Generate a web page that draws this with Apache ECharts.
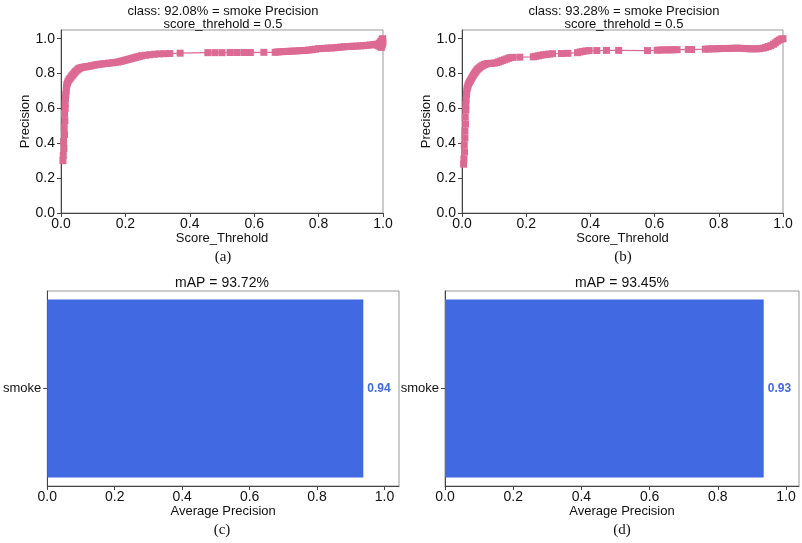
<!DOCTYPE html>
<html>
<head>
<meta charset="utf-8">
<script src="https://cdn.jsdelivr.net/npm/echarts@6/dist/echarts.min.js"></script>
<style>
  html, body { margin: 0; padding: 0; background: #fff; }
  #main { width: 802px; height: 543px; }
</style>
</head>
<body>
<div id="main"></div>
<script>
// (a) score threshold vs precision
var scoreA = [0.006, 0.007, 0.009, 0.008, 0.011, 0.010, 0.012, 0.011, 0.013, 0.013, 0.014, 0.015, 0.016,
  0.017, 0.018, 0.020, 0.022, 0.025, 0.028, 0.031, 0.034, 0.037, 0.040, 0.043, 0.046, 0.050, 0.054, 0.058,
  0.063, 0.068, 0.074, 0.080, 0.088, 0.095, 0.103, 0.110, 0.118, 0.126, 0.134, 0.142, 0.150, 0.160, 0.168,
  0.176, 0.184, 0.190, 0.196, 0.202, 0.208, 0.214, 0.220, 0.226, 0.232, 0.238, 0.244, 0.250, 0.262, 0.275,
  0.290, 0.305, 0.320, 0.338, 0.370, 0.456, 0.478, 0.500, 0.525, 0.546, 0.568, 0.588, 0.630, 0.665, 0.672,
  0.680, 0.690, 0.700, 0.710, 0.720, 0.730, 0.740, 0.750, 0.760, 0.770, 0.780, 0.790, 0.800, 0.810, 0.820,
  0.830, 0.840, 0.850, 0.860, 0.870, 0.880, 0.890, 0.900, 0.910, 0.920, 0.930, 0.940, 0.950, 0.960, 0.970,
  0.978, 0.984, 0.988, 0.991, 0.993, 0.995, 0.997, 0.998, 0.999, 1.000];
var precA = [0.30, 0.33, 0.37, 0.41, 0.45, 0.49, 0.53, 0.57, 0.60, 0.63, 0.66, 0.68, 0.70,
  0.72, 0.735, 0.745, 0.755, 0.765, 0.772, 0.78, 0.787, 0.793, 0.80, 0.807, 0.813, 0.82, 0.826, 0.831,
  0.834, 0.836, 0.838, 0.840, 0.842, 0.845, 0.848, 0.851, 0.853, 0.855, 0.857, 0.858, 0.860, 0.862, 0.864,
  0.866, 0.869, 0.872, 0.875, 0.878, 0.881, 0.884, 0.887, 0.890, 0.893, 0.896, 0.899, 0.902, 0.905, 0.908,
  0.911, 0.913, 0.914, 0.915, 0.917, 0.920, 0.920, 0.920, 0.921, 0.921, 0.921, 0.921, 0.922, 0.922, 0.924,
  0.925, 0.926, 0.927, 0.928, 0.929, 0.930, 0.931, 0.932, 0.933, 0.935, 0.937, 0.940, 0.943, 0.944, 0.945,
  0.946, 0.947, 0.948, 0.950, 0.952, 0.954, 0.955, 0.956, 0.957, 0.958, 0.959, 0.960, 0.962, 0.964, 0.966,
  0.968, 0.960, 0.975, 0.955, 0.985, 0.950, 0.995, 0.965, 1.000, 0.980];

// (b)
var scoreB = [0.005, 0.006, 0.008, 0.007, 0.009, 0.009, 0.011, 0.010, 0.012, 0.012, 0.013, 0.014, 0.015,
  0.016, 0.018, 0.020, 0.023, 0.026, 0.029, 0.032, 0.035, 0.038, 0.041, 0.044, 0.047, 0.050, 0.054, 0.058,
  0.062, 0.066, 0.070, 0.075, 0.080, 0.086, 0.092, 0.100, 0.108, 0.114, 0.120, 0.126, 0.132, 0.138, 0.144,
  0.150, 0.158, 0.180, 0.222, 0.230, 0.238, 0.246, 0.254, 0.262, 0.272, 0.282, 0.310, 0.330, 0.360, 0.368,
  0.376, 0.386, 0.396, 0.420, 0.450, 0.488, 0.578, 0.608, 0.618, 0.628, 0.640, 0.650, 0.660, 0.670, 0.705,
  0.715, 0.758, 0.768, 0.778, 0.788, 0.798, 0.808, 0.818, 0.828, 0.838, 0.848, 0.858, 0.868, 0.878, 0.888,
  0.898, 0.908, 0.918, 0.928, 0.938, 0.946, 0.954, 0.962, 0.970, 0.976, 0.982, 0.988, 0.994, 1.000];
var precB = [0.28, 0.31, 0.35, 0.39, 0.43, 0.47, 0.51, 0.55, 0.59, 0.62, 0.65, 0.68, 0.70,
  0.715, 0.728, 0.740, 0.750, 0.760, 0.770, 0.780, 0.790, 0.798, 0.806, 0.814, 0.821, 0.827, 0.833, 0.839,
  0.844, 0.848, 0.852, 0.855, 0.857, 0.858, 0.859, 0.860, 0.863, 0.867, 0.871, 0.875, 0.879, 0.883, 0.887,
  0.891, 0.893, 0.894, 0.896, 0.899, 0.902, 0.905, 0.908, 0.910, 0.912, 0.914, 0.915, 0.916, 0.920, 0.924,
  0.927, 0.930, 0.932, 0.932, 0.933, 0.933, 0.932, 0.934, 0.935, 0.936, 0.936, 0.936, 0.937, 0.937, 0.938,
  0.938, 0.940, 0.941, 0.942, 0.942, 0.943, 0.944, 0.944, 0.944, 0.945, 0.945, 0.946, 0.945, 0.944, 0.943,
  0.942, 0.942, 0.942, 0.943, 0.946, 0.950, 0.955, 0.960, 0.968, 0.976, 0.985, 0.992, 0.998, 1.000];

// (c), (d) average precision per class
var apClasses = ['smoke'];
var apC = [0.9372];
var apD = [0.9345];

var unitTicks = [0, 0.2, 0.4, 0.6, 0.8, 1.0];

var titleA = ['class: 92.08% = smoke Precision', 'score_threhold = 0.5'];
var titleB = ['class: 93.28% = smoke Precision', 'score_threhold = 0.5'];
var titleC = 'mAP = 93.72%';
var titleD = 'mAP = 93.45%';

var pink = '#dc6a92';
var blue = '#4169e1';
var sans = '"Liberation Sans", Arial, sans-serif';
var serif = '15px "Liberation Serif", "DejaVu Serif", serif';

function pairs(xs, ys) {
    var out = [];
    for (var i = 0; i < xs.length; i++) out.push([xs[i], ys[i]]);
    return out;
}

function valueAxis(idx, max, name, gap, isY) {
    return {
        type: 'value', gridIndex: idx, min: 0, max: max,
        name: name, nameLocation: 'middle', nameGap: gap,
        nameTextStyle: { fontSize: 13, color: '#111', fontFamily: sans },
        axisLine: { show: true, lineStyle: { color: '#444', width: 1 } },
        axisTick: { show: true, length: 4, customValues: unitTicks, lineStyle: { color: '#444' } },
        axisLabel: { fontSize: 14, color: '#111', margin: isY ? 6 : 4, customValues: unitTicks,
            formatter: function (v) { return v.toFixed(1); } },
        splitLine: { show: false }
    };
}

function catAxis(idx) {
    return {
        type: 'category', gridIndex: idx, data: apClasses,
        axisLine: { show: true, lineStyle: { color: '#444', width: 1 } },
        axisTick: { show: true, length: 4, alignWithLabel: true, lineStyle: { color: '#444' } },
        axisLabel: { fontSize: 13, color: '#111', margin: 6 }
    };
}

function text(x, y, str, font) {
    return {
        type: 'text', x: x, y: y,
        style: { text: str, font: font, fill: '#111', textAlign: 'center', textVerticalAlign: 'middle' }
    };
}

var myChart = echarts.init(document.getElementById('main'));

var option = {
    animation: false,
    backgroundColor: '#fff',
    textStyle: { fontFamily: sans },
    grid: [
        { left: 61, top: 30, width: 322, height: 183, show: true, borderColor: '#999', borderWidth: 1 },
        { left: 462, top: 30, width: 321, height: 183, show: true, borderColor: '#999', borderWidth: 1 },
        { left: 45, top: 291, width: 354, height: 195, show: true, borderColor: '#999', borderWidth: 1 },
        { left: 445, top: 291, width: 354, height: 195, show: true, borderColor: '#999', borderWidth: 1 }
    ],
    xAxis: [
        valueAxis(0, 1, 'Score_Threhold', 18, false),
        valueAxis(1, 1, 'Score_Threhold', 18, false),
        valueAxis(2, 1.043, 'Average Precision', 17, false),
        valueAxis(3, 1.038, 'Average Precision', 17, false)
    ],
    yAxis: [
        valueAxis(0, 1.05, 'Precision', 27, true),
        valueAxis(1, 1.05, 'Precision', 27, true),
        catAxis(2),
        catAxis(3)
    ],
    graphic: [
        text(223, 11, titleA[0], '13px ' + sans),
        text(223, 24, titleA[1], '13px ' + sans),
        text(624, 11, titleB[0], '13px ' + sans),
        text(624, 24, titleB[1], '13px ' + sans),
        text(222, 283, titleC, '14px ' + sans),
        text(622, 283, titleD, '14px ' + sans),
        text(223, 257, '(a)', serif),
        text(623, 257, '(b)', serif),
        text(222, 530, '(c)', serif),
        text(622, 530, '(d)', serif)
    ],
    series: [
        {
            type: 'line', xAxisIndex: 0, yAxisIndex: 0,
            data: pairs(scoreA, precA),
            symbol: 'rect', symbolSize: 7,
            itemStyle: { color: pink },
            lineStyle: { color: pink, width: 1.3 }
        },
        {
            type: 'line', xAxisIndex: 1, yAxisIndex: 1,
            data: pairs(scoreB, precB),
            symbol: 'rect', symbolSize: 7,
            itemStyle: { color: pink },
            lineStyle: { color: pink, width: 1.3 }
        },
        {
            type: 'bar', xAxisIndex: 2, yAxisIndex: 2,
            data: apC, barWidth: 178,
            itemStyle: { color: blue },
            label: { show: true, position: 'right', distance: 4, color: blue, fontWeight: 'bold', fontSize: 12,
                formatter: function (p) { return p.value.toFixed(2); } }
        },
        {
            type: 'bar', xAxisIndex: 3, yAxisIndex: 3,
            data: apD, barWidth: 178,
            itemStyle: { color: blue },
            label: { show: true, position: 'right', distance: 4, color: blue, fontWeight: 'bold', fontSize: 12,
                formatter: function (p) { return p.value.toFixed(2); } }
        }
    ]
};

myChart.setOption(option);
</script>
</body>
</html>
